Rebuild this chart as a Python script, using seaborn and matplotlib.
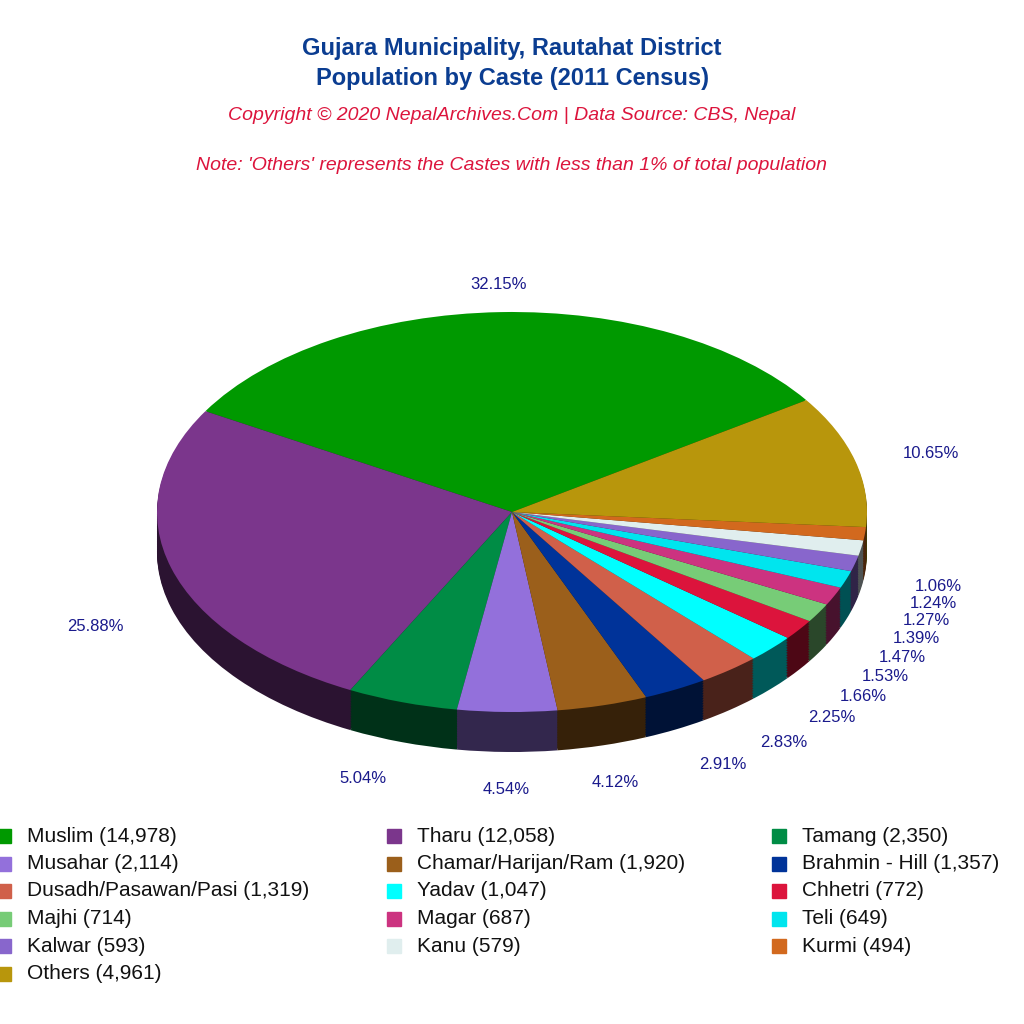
import matplotlib
matplotlib.use("Agg")
import matplotlib.pyplot as plt
import seaborn as sns
import numpy as np
from matplotlib.colors import to_rgb

sns.set_theme(style="white")
plt.rcParams['font.family'] = ['Liberation Sans', 'DejaVu Sans']

castes = ["Muslim", "Tharu", "Tamang", "Musahar", "Chamar/Harijan/Ram", "Brahmin - Hill",
          "Dusadh/Pasawan/Pasi", "Yadav", "Chhetri", "Majhi", "Magar", "Teli",
          "Kalwar", "Kanu", "Kurmi", "Others"]
population = [14978, 12058, 2350, 2114, 1920, 1357, 1319, 1047, 772, 714, 687, 649, 593, 579, 494, 4961]
colors = ["#009900", "#7B368C", "#008C45", "#9370DB", "#9B5F1B", "#003399",
          "#D0604A", "#00FFFF", "#DC143C", "#77CC77", "#CC3380", "#00E5EE",
          "#8866CC", "#E0EEEE", "#D2691E", "#B8960C"]

fig = plt.figure(figsize=(10.24, 10.24), dpi=100)
ax = fig.add_axes([0, 0, 1, 1])
cx, cy = 512, 512
rx, ry, depth = 355, 200, 0.2
start = 34
total = sum(population)
dark = [tuple(c * 0.35 for c in to_rgb(col)) for col in colors]
for off in np.linspace(-depth, 0, 25)[:-1]:
    ax.pie(population, colors=dark, startangle=start, counterclock=True, radius=1,
           center=(0, off), wedgeprops=dict(linewidth=0))
ax.pie(population, colors=colors, startangle=start, counterclock=True, radius=1,
       center=(0, 0), wedgeprops=dict(linewidth=0))
ax.set_aspect('auto')
ax.set_xlim(-cx / rx, (1024 - cx) / rx)
ax.set_ylim(-(1024 - cy) / ry, cy / ry)
ax.axis('off')

cum = 0
for v in population:
    mid = np.deg2rad(start + 360 * (cum + v / 2) / total)
    cum += v
    r = 1.14
    x, y = r * np.cos(mid), r * np.sin(mid)
    if y < 0:
        y -= depth + 0.05
    ha = 'center' if abs(np.cos(mid)) < 0.3 else ('left' if np.cos(mid) > 0 else 'right')
    ax.text(x, y, f"{100 * v / total:.2f}%", ha=ha, va='center', color='#1a1a8c', fontsize=12)

fig.text(0.5, 1 - 48 / 1024, "Gujara Municipality, Rautahat District", ha='center', va='center',
         color='#0b3d91', fontsize=17, fontweight='bold')
fig.text(0.5, 1 - 78 / 1024, "Population by Caste (2011 Census)", ha='center', va='center',
         color='#0b3d91', fontsize=17, fontweight='bold')
fig.text(0.5, 1 - 116 / 1024, "Copyright © 2020 NepalArchives.Com | Data Source: CBS, Nepal",
         ha='center', va='center', color='#DC143C', fontsize=14, style='italic')
fig.text(0.5, 1 - 165 / 1024, "Note: 'Others' represents the Castes with less than 1% of total population",
         ha='center', va='center', color='#DC143C', fontsize=14, style='italic')

col_x = [0, 390, 775]
for i, (name, v, col) in enumerate(zip(castes, population, colors)):
    row, c = divmod(i, 3)
    ypix = 836 + row * 27.5
    fig.patches.append(plt.Rectangle(((col_x[c] - 3) / 1024, 1 - (ypix + 7) / 1024), 14 / 1024, 14 / 1024,
                                     transform=fig.transFigure, color=col))
    fig.text((col_x[c] + 27) / 1024, 1 - ypix / 1024, f"{name} ({v:,})", ha='left', va='center',
             fontsize=15, color='#111111')

fig.savefig("out.png", dpi=100)
